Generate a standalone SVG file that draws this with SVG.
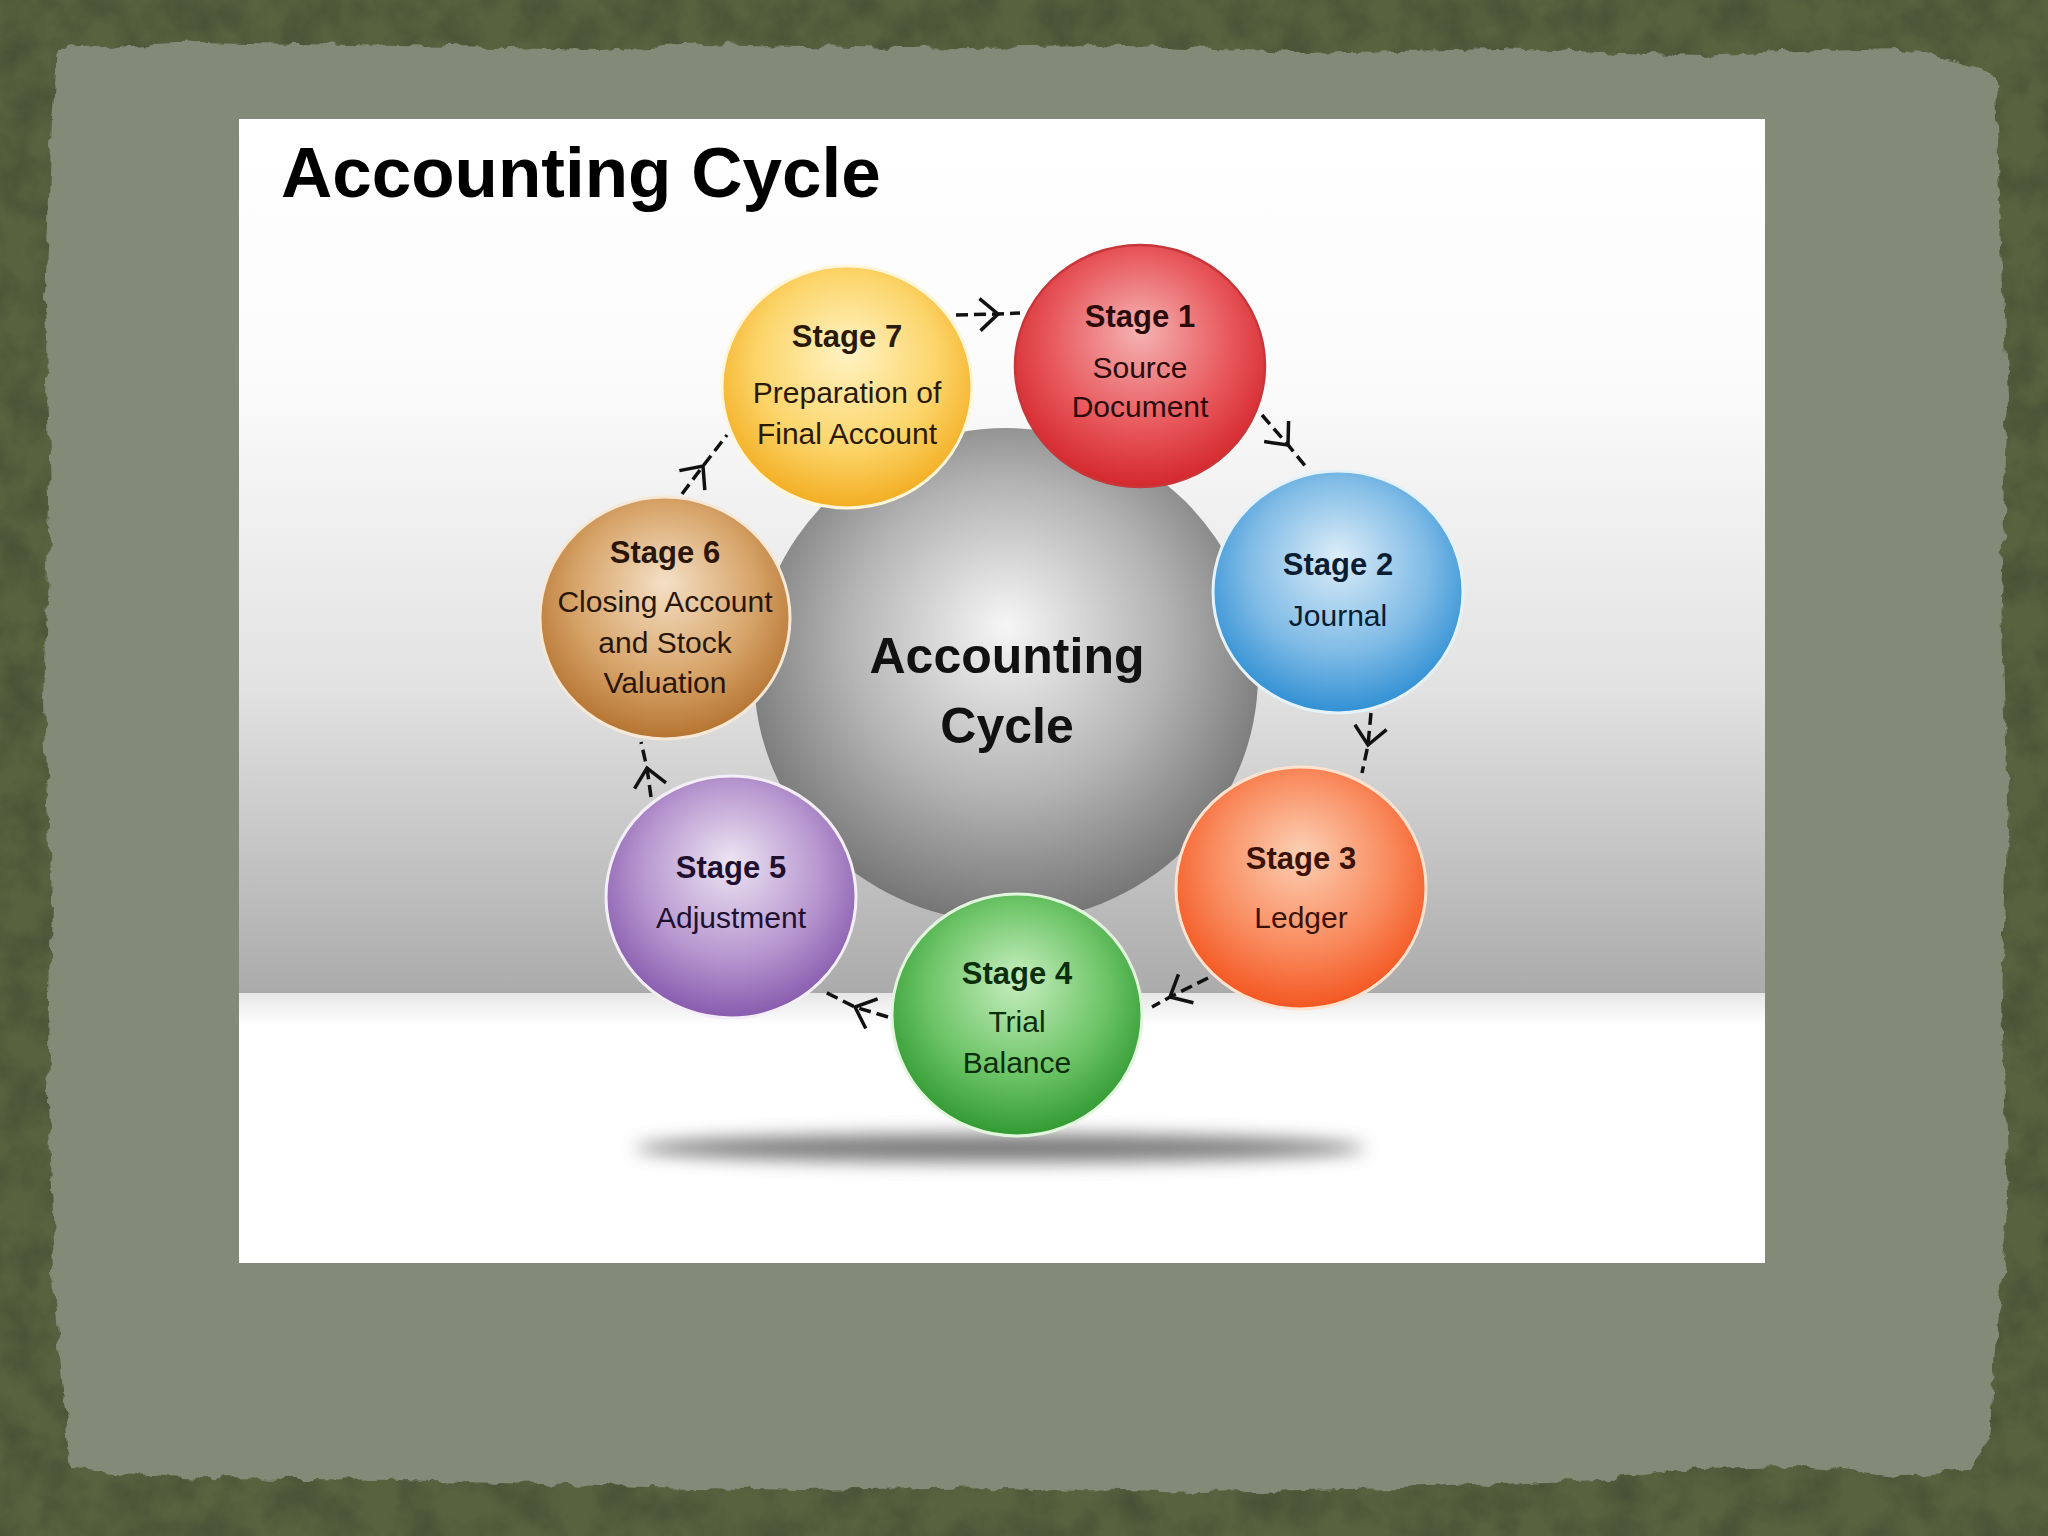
<svg xmlns="http://www.w3.org/2000/svg" width="2048" height="1536" viewBox="0 0 2048 1536">
<defs>
<style>
.hd{font-family:"Liberation Sans",Arial,sans-serif;font-weight:bold;font-size:31px;text-anchor:middle}
.bd{font-family:"Liberation Sans",Arial,sans-serif;font-size:30px;text-anchor:middle}
.ctr{font-family:"Liberation Sans",Arial,sans-serif;font-weight:bold;font-size:50px;text-anchor:middle;fill:#111}
.title{font-family:"Liberation Sans",Arial,sans-serif;font-weight:bold;font-size:71px;fill:#000}
.conn{fill:none;stroke:#111;stroke-width:3.5;stroke-dasharray:12 6;marker-mid:url(#chev)}
</style>
<filter id="grain" x="0" y="0" width="100%" height="100%" color-interpolation-filters="sRGB">
<feTurbulence type="fractalNoise" baseFrequency="0.025" numOctaves="4" seed="3" result="n"/>
<feColorMatrix in="n" type="matrix" values="0 0 0 0 0.24  0 0 0 0 0.28  0 0 0 0 0.19  0 0 0 1.2 -0.45" result="t"/>
<feComposite in="t" in2="SourceGraphic" operator="in" result="tt"/>
<feMerge><feMergeNode in="SourceGraphic"/><feMergeNode in="tt"/></feMerge>
</filter>
<filter id="rough" x="-2%" y="-2%" width="104%" height="104%">
<feTurbulence type="fractalNoise" baseFrequency="0.05" numOctaves="3" seed="7" result="n"/>
<feDisplacementMap in="SourceGraphic" in2="n" scale="12" xChannelSelector="R" yChannelSelector="G"/>
</filter>
<filter id="blur" x="-20%" y="-200%" width="140%" height="500%">
<feGaussianBlur stdDeviation="9"/>
</filter>
<linearGradient id="floor" x1="0" y1="119" x2="0" y2="993" gradientUnits="userSpaceOnUse">
<stop offset="0" stop-color="#ffffff"/>
<stop offset="0.3" stop-color="#fbfbfb"/>
<stop offset="0.65" stop-color="#e2e2e2"/>
<stop offset="1" stop-color="#ababab"/>
</linearGradient>
<linearGradient id="under" x1="0" y1="993" x2="0" y2="1025" gradientUnits="userSpaceOnUse">
<stop offset="0" stop-color="#e6e6e6"/>
<stop offset="1" stop-color="#ffffff"/>
</linearGradient>
<radialGradient id="gGray" cx="0.5" cy="0.45" r="0.58" fx="0.5" fy="0.4">
<stop offset="0" stop-color="#f6f6f6"/><stop offset="0.55" stop-color="#b3b3b3"/><stop offset="1" stop-color="#6e6e6e"/>
</radialGradient>
<radialGradient id="g1" cx="0.5" cy="0.42" r="0.6" fx="0.5" fy="0.35">
<stop offset="0" stop-color="#f5b3b3"/><stop offset="0.6" stop-color="#e8585c"/><stop offset="1" stop-color="#d2242a"/>
</radialGradient>
<radialGradient id="g2" cx="0.5" cy="0.42" r="0.6" fx="0.5" fy="0.35">
<stop offset="0" stop-color="#dcedf8"/><stop offset="0.6" stop-color="#7fbbe6"/><stop offset="1" stop-color="#2a8cd2"/>
</radialGradient>
<radialGradient id="g3" cx="0.5" cy="0.42" r="0.6" fx="0.5" fy="0.35">
<stop offset="0" stop-color="#fcd0b4"/><stop offset="0.6" stop-color="#f98a5d"/><stop offset="1" stop-color="#f3521c"/>
</radialGradient>
<radialGradient id="g4" cx="0.5" cy="0.42" r="0.6" fx="0.5" fy="0.35">
<stop offset="0" stop-color="#c8efc0"/><stop offset="0.6" stop-color="#6cc466"/><stop offset="1" stop-color="#2c962e"/>
</radialGradient>
<radialGradient id="g5" cx="0.5" cy="0.42" r="0.6" fx="0.5" fy="0.35">
<stop offset="0" stop-color="#ede5f3"/><stop offset="0.6" stop-color="#b796cf"/><stop offset="1" stop-color="#8356ab"/>
</radialGradient>
<radialGradient id="g6" cx="0.5" cy="0.42" r="0.6" fx="0.5" fy="0.35">
<stop offset="0" stop-color="#f4e0c6"/><stop offset="0.6" stop-color="#d7a469"/><stop offset="1" stop-color="#b2702c"/>
</radialGradient>
<radialGradient id="g7" cx="0.5" cy="0.42" r="0.6" fx="0.5" fy="0.35">
<stop offset="0" stop-color="#fff3c4"/><stop offset="0.6" stop-color="#fcd56a"/><stop offset="1" stop-color="#f2aa1c"/>
</radialGradient>
<marker id="chev" viewBox="-22 -20 26 40" markerWidth="26" markerHeight="40" refX="0" refY="0" markerUnits="userSpaceOnUse" orient="auto">
<path d="M-18,-16 L0,0 L-18,16" fill="none" stroke="#111" stroke-width="3.5" stroke-linejoin="miter"/>
</marker>
</defs>

<g id="background">
<rect x="0" y="0" width="2048" height="1536" fill="#57623f" filter="url(#grain)"/>
<path filter="url(#rough)" fill="#828a78" d="M58,48 L200,42 L400,46 L600,50 L700,44 L900,48 L1100,45 L1300,52 L1500,48 L1700,56 L1820,50 L1900,48 L1960,62 L1996,78 L1999,200 L2008,400 L2001,600 L2008,800 L2002,1000 L2008,1200 L1996,1350 L1990,1440 L1968,1470 L1900,1476 L1800,1466 L1700,1468 L1600,1480 L1400,1488 L1200,1492 L1000,1487 L800,1490 L600,1486 L400,1480 L200,1478 L70,1470 L55,1300 L48,1100 L52,900 L44,700 L50,500 L45,300 L52,120 Z"/>
</g>

<g id="panel">
<rect x="239" y="119" width="1526" height="1144" fill="#ffffff"/>
<rect x="239" y="119" width="1526" height="874" fill="url(#floor)"/>
<rect x="239" y="993" width="1526" height="32" fill="url(#under)"/>
<ellipse cx="1000" cy="1148" rx="365" ry="14" fill="#5a5a5a" opacity="0.8" filter="url(#blur)"/>
<text class="title" x="281" y="197">Accounting Cycle</text>
</g>

<g id="center">
<ellipse cx="1006" cy="675" rx="252" ry="247" fill="url(#gGray)"/>
<text class="ctr" x="1007" y="673">Accounting</text>
<text class="ctr" x="1007" y="743">Cycle</text>
</g>

<g id="stage1">
<ellipse cx="1140" cy="366" rx="125" ry="121" fill="url(#g1)" stroke="#c8363a" stroke-width="2.5"/>
<text class="hd" x="1140" y="327" fill="#2b0a0a">Stage 1</text>
<text class="bd" x="1140" y="378" fill="#2b0a0a">Source</text>
<text class="bd" x="1140" y="417" fill="#2b0a0a">Document</text>
</g>

<g id="stage2">
<ellipse cx="1338" cy="592" rx="125" ry="121" fill="url(#g2)" stroke="#e6f2fa" stroke-width="3"/>
<text class="hd" x="1338" y="575" fill="#0b1d33">Stage 2</text>
<text class="bd" x="1338" y="626" fill="#0b1d33">Journal</text>
</g>

<g id="stage3">
<ellipse cx="1301" cy="888" rx="125" ry="121" fill="url(#g3)" stroke="#fde3cf" stroke-width="3"/>
<text class="hd" x="1301" y="869" fill="#3a1206">Stage 3</text>
<text class="bd" x="1301" y="928" fill="#3a1206">Ledger</text>
</g>

<g id="stage4">
<ellipse cx="1017" cy="1015" rx="125" ry="121" fill="url(#g4)" stroke="#e2f6de" stroke-width="3"/>
<text class="hd" x="1017" y="984" fill="#0b2e0b">Stage 4</text>
<text class="bd" x="1017" y="1032" fill="#0b2e0b">Trial</text>
<text class="bd" x="1017" y="1073" fill="#0b2e0b">Balance</text>
</g>

<g id="stage5">
<ellipse cx="731" cy="897" rx="125" ry="121" fill="url(#g5)" stroke="#f3eef7" stroke-width="3"/>
<text class="hd" x="731" y="878" fill="#1f1030">Stage 5</text>
<text class="bd" x="731" y="928" fill="#1f1030">Adjustment</text>
</g>

<g id="stage6">
<ellipse cx="665" cy="618" rx="125" ry="121" fill="url(#g6)" stroke="#f6e8d6" stroke-width="3"/>
<text class="hd" x="665" y="563" fill="#2a1606">Stage 6</text>
<text class="bd" x="665" y="612" fill="#2a1606">Closing Account</text>
<text class="bd" x="665" y="653" fill="#2a1606">and Stock</text>
<text class="bd" x="665" y="693" fill="#2a1606">Valuation</text>
</g>

<g id="stage7">
<ellipse cx="847" cy="387" rx="125" ry="121" fill="url(#g7)" stroke="#fff6da" stroke-width="3"/>
<text class="hd" x="847" y="347" fill="#2a1a04">Stage 7</text>
<text class="bd" x="847" y="403" fill="#2a1a04">Preparation of</text>
<text class="bd" x="847" y="444" fill="#2a1a04">Final Account</text>
</g>

<g id="connectors">
<path class="conn" d="M956,315 L998,314 L1020,313"/>
<path class="conn" d="M1262,415 L1288,445 L1307,468"/>
<path class="conn" d="M1371,713 L1368,745 L1362,773"/>
<path class="conn" d="M1208,978 L1170,997 L1152,1007"/>
<path class="conn" d="M888,1017 L855,1007 L825,992"/>
<path class="conn" d="M651,797 L647,768 L641,742"/>
<path class="conn" d="M682,494 L703,466 L727,435"/>
</g>
</svg>
